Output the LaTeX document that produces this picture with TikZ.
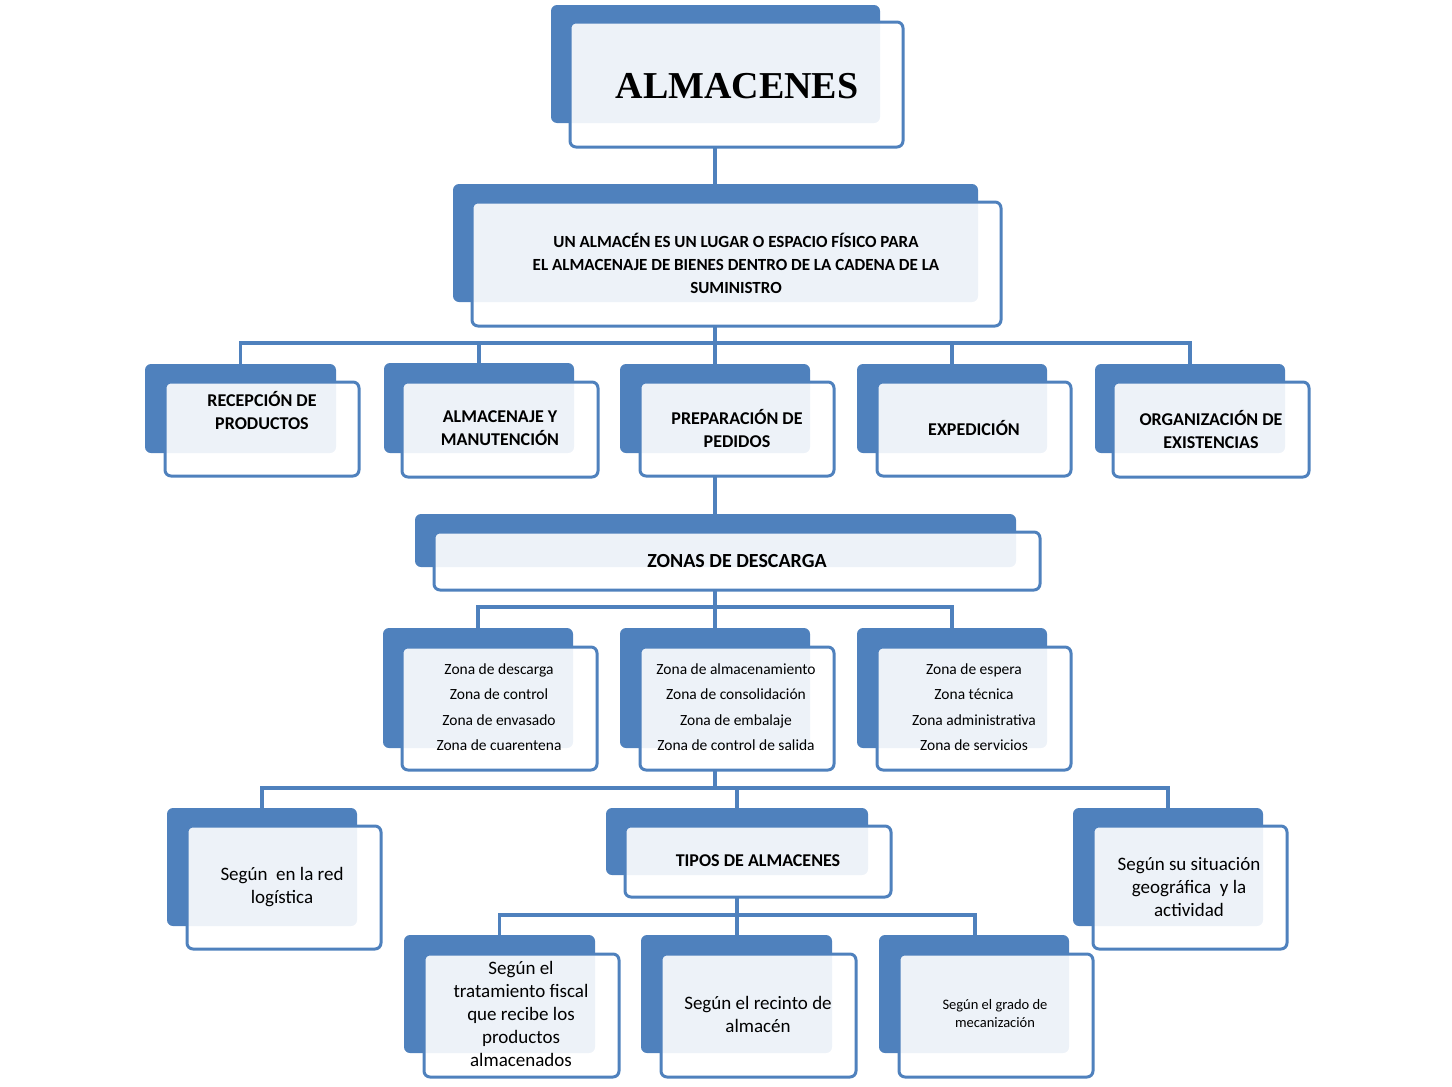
\documentclass[tikz,border=0pt]{standalone}
\usepackage{fontspec}
\setmainfont{Carlito}
\newfontfamily\titlefont{Liberation Serif}
\usetikzlibrary{fit}
\definecolor{bl}{HTML}{4F81BD}
\tikzset{
  backbox/.style={fill=bl,draw=none,rounded corners=6pt,inner sep=0pt},
  frontbox/.style={draw=bl,line width=3pt,fill=white,fill opacity=0.9,rounded corners=6pt,inner sep=0pt},
  lbl/.style={align=center,text=black,font=\fontsize{18}{23}\selectfont\bfseries},
  conn/.style={draw=bl,line width=3.5pt}
}
\newcommand{\bx}[9]{%
  \node[backbox,fit={(#2)(#3)}] (#1-b) {};
  \node[frontbox,fit={(#4)(#5)}] (#1-f) {};
  \node[#6] (#1) at (#7) {#8#9};}
\begin{document}
\begin{tikzpicture}[x=1pt,y=-1pt]
\useasboundingbox (0,0) rectangle (1452,1087);
% junctions
\coordinate (j1) at (715,343);
\coordinate (j2) at (715,607);
\coordinate (j3) at (715,788);
\coordinate (j4) at (737,915);
% connectors
\draw[conn] (715,147) -- (715,202);
\draw[conn] (715,326) -- (j1);
\draw[conn] (240.5,364) -- (240.5,343) -- (1190,343) -- (1190,364);
\draw[conn] (479,343) -- (479,364);
\draw[conn] (715,343) -- (715,364);
\draw[conn] (952,343) -- (952,364);
\draw[conn] (715,476) -- (715,514);
\draw[conn] (715,590) -- (j2);
\draw[conn] (478,628) -- (478,607) -- (952,607) -- (952,628);
\draw[conn] (715,607) -- (715,628);
\draw[conn] (715,770) -- (j3);
\draw[conn] (262,808) -- (262,788) -- (1168,788) -- (1168,808);
\draw[conn] (737,788) -- (737,808);
\draw[conn] (737,897) -- (j4);
\draw[conn] (499.5,935) -- (499.5,915) -- (975,915) -- (975,935);
\draw[conn] (737,915) -- (737,935);
% boxes
\bx{tit}{551,5}{880,123}{570,22}{903,147}{lbl}{737,86}{\titlefont\fontsize{38}{40}\selectfont\bfseries}{ALMACENES}
\bx{def}{453,184}{978,302}{472,202}{1001,326}{lbl,font=\fontsize{17}{23}\selectfont\bfseries}{736,263}{}{UN ALMACÉN ES UN LUGAR O ESPACIO FÍSICO PARA\\EL ALMACENAJE DE BIENES DENTRO DE LA CADENA DE LA\\SUMINISTRO}
\bx{rec}{145,364}{336,453}{165,382}{359,476}{lbl}{262,411}{}{RECEPCIÓN DE\\PRODUCTOS}
\bx{alm}{384,363}{574,453}{402,382}{598,477}{lbl}{500,428}{}{ALMACENAJE Y\\MANUTENCIÓN}
\bx{pre}{620,364}{810,453}{640,382}{834,476}{lbl}{737,428}{}{PREPARACIÓN DE\\PEDIDOS}
\bx{exp}{857,364}{1047,453}{877,382}{1071,476}{lbl}{974,428}{}{EXPEDICIÓN}
\bx{org}{1095,364}{1285,453}{1113,382}{1309,477}{lbl}{1211,429}{}{ORGANIZACIÓN DE\\EXISTENCIAS}
\bx{zon}{415,514}{1016,567}{434,532}{1040,590}{lbl,font=\fontsize{20}{24}\selectfont\bfseries}{737,561}{}{ZONAS DE DESCARGA}
\bx{za}{383,628}{573,748}{402,647}{597,770}{lbl,font=\fontsize{15.5}{25.5}\selectfont}{499,707}{}{Zona de descarga\\Zona de control\\Zona de envasado\\Zona de cuarentena}
\bx{zb}{620,628}{810,748}{640,647}{834,770}{lbl,font=\fontsize{15.5}{25.5}\selectfont}{736,707}{}{Zona de almacenamiento\\Zona de consolidación\\Zona de embalaje\\Zona de control de salida}
\bx{zc}{857,628}{1047,748}{877,647}{1071,770}{lbl,font=\fontsize{15.5}{25.5}\selectfont}{974,707}{}{Zona de espera\\Zona técnica\\Zona administrativa\\Zona de servicios}
\bx{red}{167,808}{357,926}{187,826}{381,949}{lbl,font=\fontsize{19}{23}\selectfont}{282,887}{}{Según~ en la red\\logística}
\bx{tip}{606,808}{868,875}{625,826}{891,897}{lbl}{758,861}{}{TIPOS DE ALMACENES}
\bx{sit}{1073,808}{1263,926}{1093,826}{1287,949}{lbl,font=\fontsize{19}{23}\selectfont}{1189,887}{}{Según su situación\\geográfica~ y la\\actividad}
\bx{fis}{404,935}{595,1053}{424,954}{619,1077}{lbl,font=\fontsize{19}{23}\selectfont}{521,1014}{}{Según el\\tratamiento fiscal\\que recibe los\\productos\\almacenados}
\bx{rcn}{641,935}{832,1053}{661,954}{856,1077}{lbl,font=\fontsize{19}{23}\selectfont}{758,1014}{}{Según el recinto de\\almacén}
\bx{gra}{879,935}{1069,1053}{899,954}{1093,1077}{lbl,font=\fontsize{14.5}{18}\selectfont}{995,1014}{}{Según el grado de\\mecanización}
\end{tikzpicture}
\end{document}
